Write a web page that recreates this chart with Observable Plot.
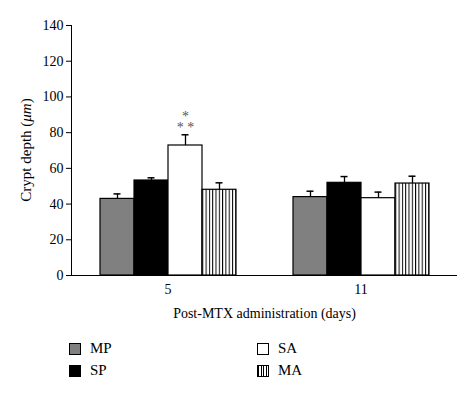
<!DOCTYPE html>
<html>
<head>
<meta charset="utf-8">
<script src="https://cdn.jsdelivr.net/npm/d3@7"></script>
<script src="https://cdn.jsdelivr.net/npm/@observablehq/plot@0.6"></script>
<style>
  html, body { margin: 0; padding: 0; background: #fff; }
  #wrap { position: relative; width: 474px; height: 393px; font-family: "Liberation Serif", "DejaVu Serif", serif; color: #000; }
  .item { position: absolute; font-size: 15px; font-weight: normal; line-height: 15px; display: flex; align-items: center; }
  .sw { width: 10px; height: 10px; border: 1px solid #000; margin-right: 9px; box-sizing: content-box; }
</style>
</head>
<body>
<div id="wrap"></div>
<script>
const days = ["5", "11"];
const series = ["MP", "SP", "SA", "MA"];
const meanMP = [42.9, 43.9];
const meanSP = [53.2, 51.9];
const meanSA = [72.8, 43.3];
const meanMA = [48.0, 51.5];
const errMP = [2.8, 3.3];
const errSP = [1.5, 3.5];
const errSA = [6.0, 3.4];
const errMA = [3.9, 4.1];
const yTicks = [0, 20, 40, 60, 80, 100, 120, 140];
const fills = ["#808080", "#000000", "#ffffff", "url(#stripes)"];
const sigDay = ["5"];
const sigSeries = ["SA"];
const sigLabel = ["*\n* *"];

const means = {MP: meanMP, SP: meanSP, SA: meanSA, MA: meanMA};
const errs = {MP: errMP, SP: errSP, SA: errSA, MA: errMA};
const data = days.flatMap((d, i) => series.map(s => ({day: d, series: s, mean: means[s][i], err: errs[s][i], top: means[s][i] + errs[s][i]})));
const sig = sigDay.map((d, i) => {
  const row = data.find(r => r.day === d && r.series === sigSeries[i]);
  return {day: d, series: sigSeries[i], top: row.top, label: sigLabel[i]};
});

const plot = Plot.plot({
  width: 474,
  height: 330,
  marginLeft: 70,
  marginRight: 17,
  marginTop: 25,
  marginBottom: 55,
  style: {fontFamily: "Liberation Serif, DejaVu Serif, serif", fontSize: "14px", color: "#000", background: "#fff", overflow: "visible"},
  fx: {domain: days, padding: 0, label: "Post-MTX administration (days)", labelAnchor: "center", tickSize: 0, tickPadding: 9, labelOffset: 42},
  x: {domain: series, axis: null, paddingInner: 0, paddingOuter: 0.764},
  y: {domain: [0, 140], axis: null},
  color: {domain: series, range: fills},
  marks: [
    Plot.axisY({ticks: yTicks, tickSize: 5, tickPadding: 3, label: null, fontSize: 14}),
    Plot.frame({anchor: "left", facetAnchor: "left"}),
    Plot.barY(data, {fx: "day", x: "series", y: "mean", fill: "series", stroke: "#000", strokeWidth: 1.2}),
    Plot.ruleX(data, {fx: "day", x: "series", y1: "mean", y2: "top", stroke: "#000", strokeWidth: 1.3}),
    Plot.tickY(data, {fx: "day", x: "series", y: "top", insetLeft: 13.5, insetRight: 13.5, stroke: "#000", strokeWidth: 1.5}),
    Plot.text(sig, {fx: "day", x: "series", y: "top", text: "label", lineAnchor: "bottom", dy: -3, fill: "#555", fontSize: 14, lineHeight: 0.8}),
    Plot.ruleY([0], {stroke: "#000", strokeWidth: 1.2})
  ]
});

const svg = plot.tagName.toLowerCase() === "svg" ? plot : plot.querySelector("svg");
const defs = d3.select(svg).insert("defs", ":first-child");
const pat = defs.append("pattern").attr("id", "stripes").attr("patternUnits", "userSpaceOnUse").attr("width", 3.3).attr("height", 10);
pat.append("rect").attr("width", 3.3).attr("height", 10).attr("fill", "#fff");
pat.append("rect").attr("x", 0).attr("width", 1).attr("height", 10).attr("fill", "#000");

// y axis label with italic unit
const lab = d3.select(svg).append("text")
  .attr("transform", "translate(28,150) rotate(-90)")
  .attr("text-anchor", "middle")
  .attr("dominant-baseline", "middle")
  .attr("font-size", 15)
  .attr("fill", "#000");
lab.append("tspan").text("Crypt depth (");
lab.append("tspan").attr("font-style", "italic").text("μm");
lab.append("tspan").text(")");

const wrap = document.getElementById("wrap");
wrap.appendChild(plot);

const legendItems = [
  {name: "MP", x: 69, y: 341},
  {name: "SP", x: 69, y: 363},
  {name: "SA", x: 257, y: 341},
  {name: "MA", x: 257, y: 363}
];
legendItems.forEach(it => {
  const i = series.indexOf(it.name);
  const div = document.createElement("div");
  div.className = "item";
  div.style.left = it.x + "px";
  div.style.top = it.y + "px";
  const sw = document.createElement("span");
  sw.className = "sw";
  if (it.name === "MA") sw.style.background = "repeating-linear-gradient(to right, #000 0 1px, #fff 1px 2.5px)";
  else sw.style.background = fills[i];
  div.appendChild(sw);
  const t = document.createElement("span");
  t.textContent = it.name;
  div.appendChild(t);
  wrap.appendChild(div);
});
</script>
</body>
</html>
